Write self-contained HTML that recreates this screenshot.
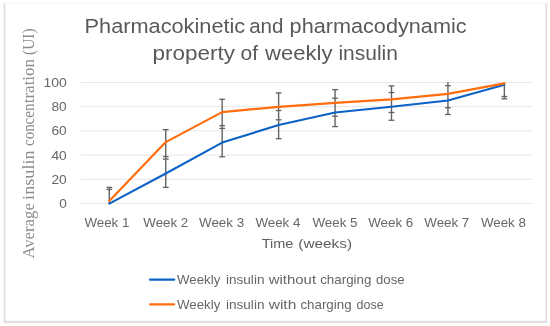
<!DOCTYPE html>
<html lang="en">
<head>
<meta charset="utf-8">
<title>Pharmacokinetic and pharmacodynamic property of weekly insulin</title>
<style>
html,body{margin:0;padding:0;background:#ffffff;}
body{width:550px;height:326px;overflow:hidden;}
svg{display:block;}
text{white-space:pre;}
</style>
</head>
<body>
<svg width="550" height="326" viewBox="0 0 550 326">
<rect x="0" y="0" width="550" height="326" fill="#ffffff"/>
<line x1="4" y1="3.4" x2="546" y2="3.4" stroke="#f6f6f6" stroke-width="1"/>
<line x1="4.5" y1="2.9" x2="4.5" y2="322.9" stroke="#e1e1e1" stroke-width="1.7"/>
<line x1="546.3" y1="2.9" x2="546.3" y2="322.9" stroke="#e1e1e1" stroke-width="1.8"/>
<line x1="3.75" y1="321.85" x2="547.2" y2="321.85" stroke="#e1e1e1" stroke-width="2.1"/>
<line x1="81" y1="203.45" x2="532.8" y2="203.45" stroke="#e7e7e7" stroke-width="1"/>
<line x1="81" y1="179.26" x2="532.8" y2="179.26" stroke="#e7e7e7" stroke-width="1"/>
<line x1="81" y1="155.07" x2="532.8" y2="155.07" stroke="#e7e7e7" stroke-width="1"/>
<line x1="81" y1="130.88" x2="532.8" y2="130.88" stroke="#e7e7e7" stroke-width="1"/>
<line x1="81" y1="106.69" x2="532.8" y2="106.69" stroke="#e7e7e7" stroke-width="1"/>
<line x1="81" y1="82.5" x2="532.8" y2="82.5" stroke="#e7e7e7" stroke-width="1"/>
<line x1="109.30" y1="187.4" x2="109.30" y2="203.4" stroke="#636363" stroke-width="1.4"/>
<line x1="106.40" y1="187.4" x2="112.20" y2="187.4" stroke="#636363" stroke-width="1.3"/>
<line x1="106.40" y1="189.4" x2="112.20" y2="189.4" stroke="#636363" stroke-width="1.3"/>
<line x1="165.74" y1="129.6" x2="165.74" y2="187.4" stroke="#636363" stroke-width="1.4"/>
<line x1="162.84" y1="129.6" x2="168.64" y2="129.6" stroke="#636363" stroke-width="1.3"/>
<line x1="162.84" y1="156.6" x2="168.64" y2="156.6" stroke="#636363" stroke-width="1.3"/>
<line x1="162.84" y1="159.1" x2="168.64" y2="159.1" stroke="#636363" stroke-width="1.3"/>
<line x1="162.84" y1="187.4" x2="168.64" y2="187.4" stroke="#636363" stroke-width="1.3"/>
<line x1="222.18" y1="99.3" x2="222.18" y2="156.8" stroke="#636363" stroke-width="1.4"/>
<line x1="219.28" y1="99.3" x2="225.08" y2="99.3" stroke="#636363" stroke-width="1.3"/>
<line x1="219.28" y1="125.6" x2="225.08" y2="125.6" stroke="#636363" stroke-width="1.3"/>
<line x1="219.28" y1="128.4" x2="225.08" y2="128.4" stroke="#636363" stroke-width="1.3"/>
<line x1="219.28" y1="156.8" x2="225.08" y2="156.8" stroke="#636363" stroke-width="1.3"/>
<line x1="278.62" y1="92.9" x2="278.62" y2="138.7" stroke="#636363" stroke-width="1.4"/>
<line x1="275.72" y1="92.9" x2="281.52" y2="92.9" stroke="#636363" stroke-width="1.3"/>
<line x1="275.72" y1="110.5" x2="281.52" y2="110.5" stroke="#636363" stroke-width="1.3"/>
<line x1="275.72" y1="119.8" x2="281.52" y2="119.8" stroke="#636363" stroke-width="1.3"/>
<line x1="275.72" y1="138.7" x2="281.52" y2="138.7" stroke="#636363" stroke-width="1.3"/>
<line x1="335.06" y1="89.6" x2="335.06" y2="126.6" stroke="#636363" stroke-width="1.4"/>
<line x1="332.16" y1="89.6" x2="337.96" y2="89.6" stroke="#636363" stroke-width="1.3"/>
<line x1="332.16" y1="98.2" x2="337.96" y2="98.2" stroke="#636363" stroke-width="1.3"/>
<line x1="332.16" y1="116.2" x2="337.96" y2="116.2" stroke="#636363" stroke-width="1.3"/>
<line x1="332.16" y1="126.6" x2="337.96" y2="126.6" stroke="#636363" stroke-width="1.3"/>
<line x1="391.50" y1="85.9" x2="391.50" y2="120.3" stroke="#636363" stroke-width="1.4"/>
<line x1="388.60" y1="85.9" x2="394.40" y2="85.9" stroke="#636363" stroke-width="1.3"/>
<line x1="388.60" y1="92.5" x2="394.40" y2="92.5" stroke="#636363" stroke-width="1.3"/>
<line x1="388.60" y1="112.5" x2="394.40" y2="112.5" stroke="#636363" stroke-width="1.3"/>
<line x1="388.60" y1="120.3" x2="394.40" y2="120.3" stroke="#636363" stroke-width="1.3"/>
<line x1="447.94" y1="82.1" x2="447.94" y2="114.5" stroke="#636363" stroke-width="1.4"/>
<line x1="445.04" y1="85.7" x2="450.84" y2="85.7" stroke="#636363" stroke-width="1.3"/>
<line x1="445.04" y1="107.7" x2="450.84" y2="107.7" stroke="#636363" stroke-width="1.3"/>
<line x1="445.04" y1="114.5" x2="450.84" y2="114.5" stroke="#636363" stroke-width="1.3"/>
<line x1="504.38" y1="82.5" x2="504.38" y2="98.8" stroke="#636363" stroke-width="1.4"/>
<line x1="501.48" y1="96.5" x2="507.28" y2="96.5" stroke="#636363" stroke-width="1.3"/>
<line x1="501.48" y1="98.8" x2="507.28" y2="98.8" stroke="#636363" stroke-width="1.3"/>
<polyline points="109.30,203.6 165.74,173.5 222.18,142.6 278.62,125.0 335.06,112.4 391.50,106.7 447.94,100.4 504.38,84.7" fill="none" stroke="#0c62c6" stroke-width="2.05" stroke-linejoin="round" stroke-linecap="round"/>
<polyline points="109.30,200.9 165.74,142.1 222.18,112.1 278.62,106.8 335.06,102.8 391.50,99.3 447.94,93.8 504.38,83.4" fill="none" stroke="#ff6d0c" stroke-width="2.2" stroke-linejoin="round" stroke-linecap="round"/>
<text y="32.85" font-family='"Liberation Sans", Arial, sans-serif' font-size="19.3" fill="#595959"><tspan x="84.6" textLength="160.6" lengthAdjust="spacingAndGlyphs">Pharmacokinetic</tspan> <tspan x="249.2" textLength="34.2" lengthAdjust="spacingAndGlyphs">and</tspan> <tspan x="289.6" textLength="177.0" lengthAdjust="spacingAndGlyphs">pharmacodynamic</tspan></text>
<text y="59.5" font-family='"Liberation Sans", Arial, sans-serif' font-size="19.3" fill="#595959"><tspan x="152.6" textLength="82.5" lengthAdjust="spacingAndGlyphs">property</tspan> <tspan x="240.6" textLength="17.5" lengthAdjust="spacingAndGlyphs">of</tspan> <tspan x="265.0" textLength="67.5" lengthAdjust="spacingAndGlyphs">weekly</tspan> <tspan x="338.4" textLength="59.5" lengthAdjust="spacingAndGlyphs">insulin</tspan></text>
<text x="59.300000000000004" y="208.0" font-family='"Liberation Sans", Arial, sans-serif' font-size="13.5" fill="#666666" text-anchor="start" textLength="7.6" lengthAdjust="spacingAndGlyphs">0</text>
<text x="51.45" y="183.81" font-family='"Liberation Sans", Arial, sans-serif' font-size="13.5" fill="#666666" text-anchor="start" textLength="15.3" lengthAdjust="spacingAndGlyphs">20</text>
<text x="51.45" y="159.62" font-family='"Liberation Sans", Arial, sans-serif' font-size="13.5" fill="#666666" text-anchor="start" textLength="15.3" lengthAdjust="spacingAndGlyphs">40</text>
<text x="51.45" y="135.43" font-family='"Liberation Sans", Arial, sans-serif' font-size="13.5" fill="#666666" text-anchor="start" textLength="15.3" lengthAdjust="spacingAndGlyphs">60</text>
<text x="51.45" y="111.23999999999998" font-family='"Liberation Sans", Arial, sans-serif' font-size="13.5" fill="#666666" text-anchor="start" textLength="15.3" lengthAdjust="spacingAndGlyphs">80</text>
<text x="43.6" y="87.05" font-family='"Liberation Sans", Arial, sans-serif' font-size="13.5" fill="#666666" text-anchor="start" textLength="23.3" lengthAdjust="spacingAndGlyphs">100</text>
<text x="84.39999999999999" y="226.7" font-family='"Liberation Sans", Arial, sans-serif' font-size="12.1" fill="#666666" text-anchor="start" textLength="45.0" lengthAdjust="spacingAndGlyphs">Week 1</text>
<text x="143.3" y="226.7" font-family='"Liberation Sans", Arial, sans-serif' font-size="12.1" fill="#666666" text-anchor="start" textLength="45.0" lengthAdjust="spacingAndGlyphs">Week 2</text>
<text x="199.10000000000002" y="226.7" font-family='"Liberation Sans", Arial, sans-serif' font-size="12.1" fill="#666666" text-anchor="start" textLength="45.0" lengthAdjust="spacingAndGlyphs">Week 3</text>
<text x="255.4" y="226.7" font-family='"Liberation Sans", Arial, sans-serif' font-size="12.1" fill="#666666" text-anchor="start" textLength="45.0" lengthAdjust="spacingAndGlyphs">Week 4</text>
<text x="312.5" y="226.7" font-family='"Liberation Sans", Arial, sans-serif' font-size="12.1" fill="#666666" text-anchor="start" textLength="45.0" lengthAdjust="spacingAndGlyphs">Week 5</text>
<text x="368.2" y="226.7" font-family='"Liberation Sans", Arial, sans-serif' font-size="12.1" fill="#666666" text-anchor="start" textLength="45.0" lengthAdjust="spacingAndGlyphs">Week 6</text>
<text x="424.3" y="226.7" font-family='"Liberation Sans", Arial, sans-serif' font-size="12.1" fill="#666666" text-anchor="start" textLength="45.0" lengthAdjust="spacingAndGlyphs">Week 7</text>
<text x="480.90000000000003" y="226.7" font-family='"Liberation Sans", Arial, sans-serif' font-size="12.1" fill="#666666" text-anchor="start" textLength="45.0" lengthAdjust="spacingAndGlyphs">Week 8</text>
<text y="248.0" font-family='"Liberation Sans", Arial, sans-serif' font-size="13.3" fill="#5e5e5e"><tspan x="261.7" textLength="31.7" lengthAdjust="spacingAndGlyphs">Time</tspan> <tspan x="298.3" textLength="53.7" lengthAdjust="spacingAndGlyphs">(weeks)</tspan></text>
<line x1="150" y1="279.7" x2="174.2" y2="279.7" stroke="#0c62c6" stroke-width="2.2" stroke-linecap="round"/>
<line x1="150" y1="304.35" x2="174.2" y2="304.35" stroke="#ff6d0c" stroke-width="2.15" stroke-linecap="round"/>
<text y="284.45" font-family='"Liberation Sans", Arial, sans-serif' font-size="12.1" fill="#666666"><tspan x="177.1" textLength="43.2" lengthAdjust="spacingAndGlyphs">Weekly</tspan> <tspan x="225.9" textLength="38.6" lengthAdjust="spacingAndGlyphs">insulin</tspan> <tspan x="268.7" textLength="47.4" lengthAdjust="spacingAndGlyphs">without</tspan> <tspan x="320.2" textLength="51.2" lengthAdjust="spacingAndGlyphs">charging</tspan> <tspan x="376.0" textLength="28.6" lengthAdjust="spacingAndGlyphs">dose</tspan></text>
<text y="308.75" font-family='"Liberation Sans", Arial, sans-serif' font-size="12.1" fill="#666666"><tspan x="177.1" textLength="43.2" lengthAdjust="spacingAndGlyphs">Weekly</tspan> <tspan x="225.9" textLength="38.6" lengthAdjust="spacingAndGlyphs">insulin</tspan> <tspan x="268.7" textLength="27.6" lengthAdjust="spacingAndGlyphs">with</tspan> <tspan x="300.4" textLength="51.2" lengthAdjust="spacingAndGlyphs">charging</tspan> <tspan x="356.5" textLength="27.1" lengthAdjust="spacingAndGlyphs">dose</tspan></text>
<text y="0" font-family='"Liberation Serif", "Times New Roman", serif' font-size="16.6" fill="#8c8c8c" transform="translate(33.6 0) rotate(-90)"><tspan x="-258.6" textLength="55.4" lengthAdjust="spacingAndGlyphs">Average</tspan> <tspan x="-199.9" textLength="49.5" lengthAdjust="spacingAndGlyphs">insulin</tspan> <tspan x="-146.0" textLength="42.4" lengthAdjust="spacingAndGlyphs">concen</tspan><tspan x="-103.3" textLength="44.4" lengthAdjust="spacingAndGlyphs">tration</tspan> <tspan x="-54.9" textLength="26.4" lengthAdjust="spacingAndGlyphs">(UI)</tspan></text>
</svg>
</body>
</html>
